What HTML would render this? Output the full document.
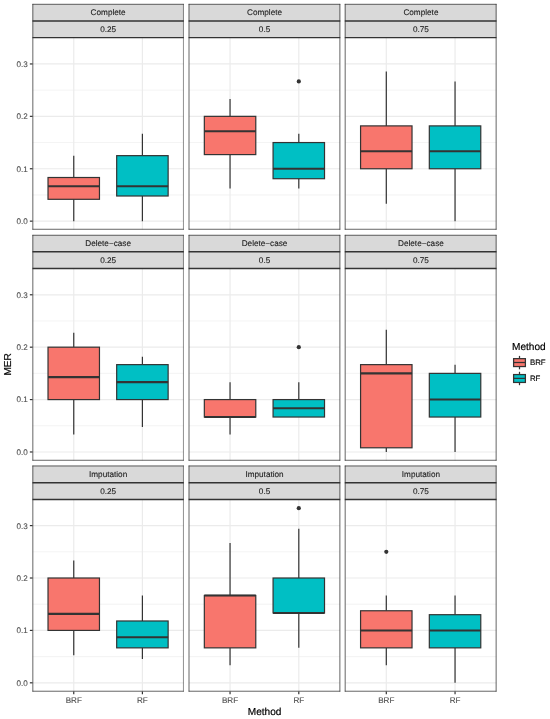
<!DOCTYPE html>
<html lang="en"><head><meta charset="utf-8"><title>MER by Method</title>
<style>html,body{margin:0;padding:0;background:#fff}svg{display:block}text{font-family:"Liberation Sans",Arial,Helvetica,sans-serif;text-rendering:geometricPrecision}.s{font-size:8.2px;fill:#1a1a1a;text-anchor:middle;stroke:#1a1a1a;stroke-width:.1px}.ax{font-size:8.1px;fill:#4d4d4d;stroke:#4d4d4d;stroke-width:.1px}.t{font-size:10.1px;fill:#000;stroke:#000;stroke-width:.18px}.lg{font-size:7.9px;fill:#000;stroke:#000;stroke-width:.12px}</style></head><body>
<svg width="550" height="719" viewBox="0 0 550 719">
<rect width="550" height="719" fill="#fff"/>
<g>
<rect x="32.6" y="37.67" width="151.05" height="191.98" fill="#fff"/>
<line x1="32.6" x2="183.65" y1="194.95" y2="194.95" stroke="#ebebeb" stroke-width="0.6"/>
<line x1="32.6" x2="183.65" y1="142.55" y2="142.55" stroke="#ebebeb" stroke-width="0.6"/>
<line x1="32.6" x2="183.65" y1="90.15" y2="90.15" stroke="#ebebeb" stroke-width="0.6"/>
<line x1="32.6" x2="183.65" y1="221.15" y2="221.15" stroke="#ebebeb" stroke-width="1.2"/>
<line x1="32.6" x2="183.65" y1="168.75" y2="168.75" stroke="#ebebeb" stroke-width="1.2"/>
<line x1="32.6" x2="183.65" y1="116.35" y2="116.35" stroke="#ebebeb" stroke-width="1.2"/>
<line x1="32.6" x2="183.65" y1="63.95" y2="63.95" stroke="#ebebeb" stroke-width="1.2"/>
<line x1="73.75" x2="73.75" y1="37.67" y2="229.65" stroke="#ebebeb" stroke-width="1.2"/>
<line x1="142.4" x2="142.4" y1="37.67" y2="229.65" stroke="#ebebeb" stroke-width="1.2"/>
<line x1="73.75" x2="73.75" y1="155.65" y2="177.5" stroke="#333" stroke-width="1.2"/>
<line x1="73.75" x2="73.75" y1="199.3" y2="221.15" stroke="#333" stroke-width="1.2"/>
<rect x="48.02" y="177.5" width="51.45" height="21.8" fill="#F8766D" stroke="#333" stroke-width="1.2"/>
<line x1="48.02" x2="99.47" y1="186.2" y2="186.2" stroke="#333" stroke-width="2.05"/>
<line x1="142.4" x2="142.4" y1="133.8" y2="155.65" stroke="#333" stroke-width="1.2"/>
<line x1="142.4" x2="142.4" y1="196" y2="221.15" stroke="#333" stroke-width="1.2"/>
<rect x="116.68" y="155.65" width="51.45" height="40.35" fill="#00BFC4" stroke="#333" stroke-width="1.2"/>
<line x1="116.68" x2="168.12" y1="186.2" y2="186.2" stroke="#333" stroke-width="2.05"/>
<rect x="32.45" y="3.93" width="151.37" height="33.74" fill="#d9d9d9"/>
<line x1="32.45" x2="183.82" y1="4.30" y2="4.30" stroke="#333" stroke-width="0.75"/><line x1="32.45" x2="183.82" y1="21.00" y2="21.00" stroke="#333" stroke-width="1.5"/><line x1="32.45" x2="183.82" y1="37.67" y2="37.67" stroke="#333" stroke-width="1.4"/><line x1="32.45" x2="183.82" y1="229.28" y2="229.28" stroke="#333" stroke-width="0.75"/><line x1="32.83" x2="32.83" y1="3.93" y2="229.65" stroke="#333" stroke-width="0.75"/><line x1="183.45" x2="183.45" y1="3.93" y2="229.65" stroke="#333" stroke-width="0.55"/>
<text class="s" x="108.12" y="15.37">Complete</text>
<text class="s" x="108.12" y="32.23">0.25</text>
<line x1="29.85" x2="32.6" y1="221.15" y2="221.15" stroke="#333" stroke-width="1.2"/>
<text class="ax" text-anchor="end" x="27.7" y="224.05">0.0</text>
<line x1="29.85" x2="32.6" y1="168.75" y2="168.75" stroke="#333" stroke-width="1.2"/>
<text class="ax" text-anchor="end" x="27.7" y="171.65">0.1</text>
<line x1="29.85" x2="32.6" y1="116.35" y2="116.35" stroke="#333" stroke-width="1.2"/>
<text class="ax" text-anchor="end" x="27.7" y="119.25">0.2</text>
<line x1="29.85" x2="32.6" y1="63.95" y2="63.95" stroke="#333" stroke-width="1.2"/>
<text class="ax" text-anchor="end" x="27.7" y="66.85">0.3</text>
</g>
<g>
<rect x="189.1" y="37.67" width="150.9" height="191.98" fill="#fff"/>
<line x1="189.1" x2="340" y1="194.95" y2="194.95" stroke="#ebebeb" stroke-width="0.6"/>
<line x1="189.1" x2="340" y1="142.55" y2="142.55" stroke="#ebebeb" stroke-width="0.6"/>
<line x1="189.1" x2="340" y1="90.15" y2="90.15" stroke="#ebebeb" stroke-width="0.6"/>
<line x1="189.1" x2="340" y1="221.15" y2="221.15" stroke="#ebebeb" stroke-width="1.2"/>
<line x1="189.1" x2="340" y1="168.75" y2="168.75" stroke="#ebebeb" stroke-width="1.2"/>
<line x1="189.1" x2="340" y1="116.35" y2="116.35" stroke="#ebebeb" stroke-width="1.2"/>
<line x1="189.1" x2="340" y1="63.95" y2="63.95" stroke="#ebebeb" stroke-width="1.2"/>
<line x1="230.05" x2="230.05" y1="37.67" y2="229.65" stroke="#ebebeb" stroke-width="1.2"/>
<line x1="298.8" x2="298.8" y1="37.67" y2="229.65" stroke="#ebebeb" stroke-width="1.2"/>
<line x1="230.05" x2="230.05" y1="98.9" y2="116.35" stroke="#333" stroke-width="1.2"/>
<line x1="230.05" x2="230.05" y1="154.6" y2="188.4" stroke="#333" stroke-width="1.2"/>
<rect x="204.33" y="116.35" width="51.45" height="38.25" fill="#F8766D" stroke="#333" stroke-width="1.2"/>
<line x1="204.33" x2="255.78" y1="131.34" y2="131.34" stroke="#333" stroke-width="2.05"/>
<circle cx="298.8" cy="81.4" r="2.1" fill="#333"/>
<line x1="298.8" x2="298.8" y1="133.8" y2="142.55" stroke="#333" stroke-width="1.2"/>
<line x1="298.8" x2="298.8" y1="178.71" y2="188.4" stroke="#333" stroke-width="1.2"/>
<rect x="273.07" y="142.55" width="51.45" height="36.16" fill="#00BFC4" stroke="#333" stroke-width="1.2"/>
<line x1="273.07" x2="324.53" y1="168.75" y2="168.75" stroke="#333" stroke-width="2.05"/>
<rect x="188.62" y="3.93" width="151.63" height="33.74" fill="#d9d9d9"/>
<line x1="188.62" x2="340.25" y1="4.30" y2="4.30" stroke="#333" stroke-width="0.75"/><line x1="188.62" x2="340.25" y1="21.00" y2="21.00" stroke="#333" stroke-width="1.5"/><line x1="188.62" x2="340.25" y1="37.67" y2="37.67" stroke="#333" stroke-width="1.4"/><line x1="188.62" x2="340.25" y1="229.28" y2="229.28" stroke="#333" stroke-width="0.75"/><line x1="189.00" x2="189.00" y1="3.93" y2="229.65" stroke="#333" stroke-width="0.75"/><line x1="339.88" x2="339.88" y1="3.93" y2="229.65" stroke="#333" stroke-width="0.75"/>
<text class="s" x="264.55" y="15.37">Complete</text>
<text class="s" x="264.55" y="32.23">0.5</text>
</g>
<g>
<rect x="345.45" y="37.67" width="150.95" height="191.98" fill="#fff"/>
<line x1="345.45" x2="496.4" y1="194.95" y2="194.95" stroke="#ebebeb" stroke-width="0.6"/>
<line x1="345.45" x2="496.4" y1="142.55" y2="142.55" stroke="#ebebeb" stroke-width="0.6"/>
<line x1="345.45" x2="496.4" y1="90.15" y2="90.15" stroke="#ebebeb" stroke-width="0.6"/>
<line x1="345.45" x2="496.4" y1="221.15" y2="221.15" stroke="#ebebeb" stroke-width="1.2"/>
<line x1="345.45" x2="496.4" y1="168.75" y2="168.75" stroke="#ebebeb" stroke-width="1.2"/>
<line x1="345.45" x2="496.4" y1="116.35" y2="116.35" stroke="#ebebeb" stroke-width="1.2"/>
<line x1="345.45" x2="496.4" y1="63.95" y2="63.95" stroke="#ebebeb" stroke-width="1.2"/>
<line x1="386.3" x2="386.3" y1="37.67" y2="229.65" stroke="#ebebeb" stroke-width="1.2"/>
<line x1="455.05" x2="455.05" y1="37.67" y2="229.65" stroke="#ebebeb" stroke-width="1.2"/>
<line x1="386.3" x2="386.3" y1="71.44" y2="125.89" stroke="#333" stroke-width="1.2"/>
<line x1="386.3" x2="386.3" y1="168.75" y2="203.7" stroke="#333" stroke-width="1.2"/>
<rect x="360.57" y="125.89" width="51.45" height="42.86" fill="#F8766D" stroke="#333" stroke-width="1.2"/>
<line x1="360.57" x2="412.03" y1="151.3" y2="151.3" stroke="#333" stroke-width="2.05"/>
<line x1="455.05" x2="455.05" y1="81.4" y2="125.89" stroke="#333" stroke-width="1.2"/>
<line x1="455.05" x2="455.05" y1="168.75" y2="221.15" stroke="#333" stroke-width="1.2"/>
<rect x="429.32" y="125.89" width="51.45" height="42.86" fill="#00BFC4" stroke="#333" stroke-width="1.2"/>
<line x1="429.32" x2="480.78" y1="151.3" y2="151.3" stroke="#333" stroke-width="2.05"/>
<rect x="344.81" y="3.93" width="151.70" height="33.74" fill="#d9d9d9"/>
<line x1="344.81" x2="496.50" y1="4.30" y2="4.30" stroke="#333" stroke-width="0.75"/><line x1="344.81" x2="496.50" y1="21.00" y2="21.00" stroke="#333" stroke-width="1.5"/><line x1="344.81" x2="496.50" y1="37.67" y2="37.67" stroke="#333" stroke-width="1.4"/><line x1="344.81" x2="496.50" y1="229.28" y2="229.28" stroke="#333" stroke-width="0.75"/><line x1="345.18" x2="345.18" y1="3.93" y2="229.65" stroke="#333" stroke-width="0.75"/><line x1="496.13" x2="496.13" y1="3.93" y2="229.65" stroke="#333" stroke-width="0.75"/>
<text class="s" x="420.92" y="15.37">Complete</text>
<text class="s" x="420.92" y="32.23">0.75</text>
</g>
<g>
<rect x="32.6" y="268.45" width="151.05" height="192.2" fill="#fff"/>
<line x1="32.6" x2="183.65" y1="425.78" y2="425.78" stroke="#ebebeb" stroke-width="0.6"/>
<line x1="32.6" x2="183.65" y1="373.38" y2="373.38" stroke="#ebebeb" stroke-width="0.6"/>
<line x1="32.6" x2="183.65" y1="320.98" y2="320.98" stroke="#ebebeb" stroke-width="0.6"/>
<line x1="32.6" x2="183.65" y1="451.98" y2="451.98" stroke="#ebebeb" stroke-width="1.2"/>
<line x1="32.6" x2="183.65" y1="399.58" y2="399.58" stroke="#ebebeb" stroke-width="1.2"/>
<line x1="32.6" x2="183.65" y1="347.18" y2="347.18" stroke="#ebebeb" stroke-width="1.2"/>
<line x1="32.6" x2="183.65" y1="294.78" y2="294.78" stroke="#ebebeb" stroke-width="1.2"/>
<line x1="73.75" x2="73.75" y1="268.45" y2="460.65" stroke="#ebebeb" stroke-width="1.2"/>
<line x1="142.4" x2="142.4" y1="268.45" y2="460.65" stroke="#ebebeb" stroke-width="1.2"/>
<line x1="73.75" x2="73.75" y1="332.87" y2="347.18" stroke="#333" stroke-width="1.2"/>
<line x1="73.75" x2="73.75" y1="399.58" y2="434.53" stroke="#333" stroke-width="1.2"/>
<rect x="48.02" y="347.18" width="51.45" height="52.4" fill="#F8766D" stroke="#333" stroke-width="1.2"/>
<line x1="48.02" x2="99.47" y1="377.1" y2="377.1" stroke="#333" stroke-width="2.05"/>
<line x1="142.4" x2="142.4" y1="356.72" y2="364.63" stroke="#333" stroke-width="1.2"/>
<line x1="142.4" x2="142.4" y1="399.58" y2="427.04" stroke="#333" stroke-width="1.2"/>
<rect x="116.68" y="364.63" width="51.45" height="34.95" fill="#00BFC4" stroke="#333" stroke-width="1.2"/>
<line x1="116.68" x2="168.12" y1="382.13" y2="382.13" stroke="#333" stroke-width="2.05"/>
<rect x="32.45" y="234.9" width="151.37" height="33.55" fill="#d9d9d9"/>
<line x1="32.45" x2="183.82" y1="235.28" y2="235.28" stroke="#333" stroke-width="0.75"/><line x1="32.45" x2="183.82" y1="251.78" y2="251.78" stroke="#333" stroke-width="1.5"/><line x1="32.45" x2="183.82" y1="268.45" y2="268.45" stroke="#333" stroke-width="1.4"/><line x1="32.45" x2="183.82" y1="460.27" y2="460.27" stroke="#333" stroke-width="0.75"/><line x1="32.83" x2="32.83" y1="234.90" y2="460.65" stroke="#333" stroke-width="0.75"/><line x1="183.45" x2="183.45" y1="234.90" y2="460.65" stroke="#333" stroke-width="0.55"/>
<text class="s" x="108.12" y="246.24">Delete−case</text>
<text class="s" x="108.12" y="263.01">0.25</text>
<line x1="29.85" x2="32.6" y1="451.98" y2="451.98" stroke="#333" stroke-width="1.2"/>
<text class="ax" text-anchor="end" x="27.7" y="454.88">0.0</text>
<line x1="29.85" x2="32.6" y1="399.58" y2="399.58" stroke="#333" stroke-width="1.2"/>
<text class="ax" text-anchor="end" x="27.7" y="402.48">0.1</text>
<line x1="29.85" x2="32.6" y1="347.18" y2="347.18" stroke="#333" stroke-width="1.2"/>
<text class="ax" text-anchor="end" x="27.7" y="350.08">0.2</text>
<line x1="29.85" x2="32.6" y1="294.78" y2="294.78" stroke="#333" stroke-width="1.2"/>
<text class="ax" text-anchor="end" x="27.7" y="297.68">0.3</text>
</g>
<g>
<rect x="189.1" y="268.45" width="150.9" height="192.2" fill="#fff"/>
<line x1="189.1" x2="340" y1="425.78" y2="425.78" stroke="#ebebeb" stroke-width="0.6"/>
<line x1="189.1" x2="340" y1="373.38" y2="373.38" stroke="#ebebeb" stroke-width="0.6"/>
<line x1="189.1" x2="340" y1="320.98" y2="320.98" stroke="#ebebeb" stroke-width="0.6"/>
<line x1="189.1" x2="340" y1="451.98" y2="451.98" stroke="#ebebeb" stroke-width="1.2"/>
<line x1="189.1" x2="340" y1="399.58" y2="399.58" stroke="#ebebeb" stroke-width="1.2"/>
<line x1="189.1" x2="340" y1="347.18" y2="347.18" stroke="#ebebeb" stroke-width="1.2"/>
<line x1="189.1" x2="340" y1="294.78" y2="294.78" stroke="#ebebeb" stroke-width="1.2"/>
<line x1="230.05" x2="230.05" y1="268.45" y2="460.65" stroke="#ebebeb" stroke-width="1.2"/>
<line x1="298.8" x2="298.8" y1="268.45" y2="460.65" stroke="#ebebeb" stroke-width="1.2"/>
<line x1="230.05" x2="230.05" y1="382.13" y2="399.58" stroke="#333" stroke-width="1.2"/>
<line x1="230.05" x2="230.05" y1="417.03" y2="434.53" stroke="#333" stroke-width="1.2"/>
<rect x="204.33" y="399.58" width="51.45" height="17.45" fill="#F8766D" stroke="#333" stroke-width="1.2"/>
<line x1="204.33" x2="255.78" y1="417.03" y2="417.03" stroke="#333" stroke-width="2.05"/>
<circle cx="298.8" cy="347.18" r="2.1" fill="#333"/>
<line x1="298.8" x2="298.8" y1="382.13" y2="399.58" stroke="#333" stroke-width="1.2"/>
<rect x="273.07" y="399.58" width="51.45" height="17.45" fill="#00BFC4" stroke="#333" stroke-width="1.2"/>
<line x1="273.07" x2="324.53" y1="408.33" y2="408.33" stroke="#333" stroke-width="2.05"/>
<rect x="188.62" y="234.9" width="151.63" height="33.55" fill="#d9d9d9"/>
<line x1="188.62" x2="340.25" y1="235.28" y2="235.28" stroke="#333" stroke-width="0.75"/><line x1="188.62" x2="340.25" y1="251.78" y2="251.78" stroke="#333" stroke-width="1.5"/><line x1="188.62" x2="340.25" y1="268.45" y2="268.45" stroke="#333" stroke-width="1.4"/><line x1="188.62" x2="340.25" y1="460.27" y2="460.27" stroke="#333" stroke-width="0.75"/><line x1="189.00" x2="189.00" y1="234.90" y2="460.65" stroke="#333" stroke-width="0.75"/><line x1="339.88" x2="339.88" y1="234.90" y2="460.65" stroke="#333" stroke-width="0.75"/>
<text class="s" x="264.55" y="246.24">Delete−case</text>
<text class="s" x="264.55" y="263.01">0.5</text>
</g>
<g>
<rect x="345.45" y="268.45" width="150.95" height="192.2" fill="#fff"/>
<line x1="345.45" x2="496.4" y1="425.78" y2="425.78" stroke="#ebebeb" stroke-width="0.6"/>
<line x1="345.45" x2="496.4" y1="373.38" y2="373.38" stroke="#ebebeb" stroke-width="0.6"/>
<line x1="345.45" x2="496.4" y1="320.98" y2="320.98" stroke="#ebebeb" stroke-width="0.6"/>
<line x1="345.45" x2="496.4" y1="451.98" y2="451.98" stroke="#ebebeb" stroke-width="1.2"/>
<line x1="345.45" x2="496.4" y1="399.58" y2="399.58" stroke="#ebebeb" stroke-width="1.2"/>
<line x1="345.45" x2="496.4" y1="347.18" y2="347.18" stroke="#ebebeb" stroke-width="1.2"/>
<line x1="345.45" x2="496.4" y1="294.78" y2="294.78" stroke="#ebebeb" stroke-width="1.2"/>
<line x1="386.3" x2="386.3" y1="268.45" y2="460.65" stroke="#ebebeb" stroke-width="1.2"/>
<line x1="455.05" x2="455.05" y1="268.45" y2="460.65" stroke="#ebebeb" stroke-width="1.2"/>
<line x1="386.3" x2="386.3" y1="329.73" y2="364.63" stroke="#333" stroke-width="1.2"/>
<line x1="386.3" x2="386.3" y1="447.79" y2="451.98" stroke="#333" stroke-width="1.2"/>
<rect x="360.57" y="364.63" width="51.45" height="83.16" fill="#F8766D" stroke="#333" stroke-width="1.2"/>
<line x1="360.57" x2="412.03" y1="373.38" y2="373.38" stroke="#333" stroke-width="2.05"/>
<line x1="455.05" x2="455.05" y1="364.63" y2="373.38" stroke="#333" stroke-width="1.2"/>
<line x1="455.05" x2="455.05" y1="417.03" y2="451.98" stroke="#333" stroke-width="1.2"/>
<rect x="429.32" y="373.38" width="51.45" height="43.65" fill="#00BFC4" stroke="#333" stroke-width="1.2"/>
<line x1="429.32" x2="480.78" y1="399.58" y2="399.58" stroke="#333" stroke-width="2.05"/>
<rect x="344.81" y="234.9" width="151.70" height="33.55" fill="#d9d9d9"/>
<line x1="344.81" x2="496.50" y1="235.28" y2="235.28" stroke="#333" stroke-width="0.75"/><line x1="344.81" x2="496.50" y1="251.78" y2="251.78" stroke="#333" stroke-width="1.5"/><line x1="344.81" x2="496.50" y1="268.45" y2="268.45" stroke="#333" stroke-width="1.4"/><line x1="344.81" x2="496.50" y1="460.27" y2="460.27" stroke="#333" stroke-width="0.75"/><line x1="345.18" x2="345.18" y1="234.90" y2="460.65" stroke="#333" stroke-width="0.75"/><line x1="496.13" x2="496.13" y1="234.90" y2="460.65" stroke="#333" stroke-width="0.75"/>
<text class="s" x="420.92" y="246.24">Delete−case</text>
<text class="s" x="420.92" y="263.01">0.75</text>
</g>
<g>
<rect x="32.6" y="499.5" width="151.05" height="192.1" fill="#fff"/>
<line x1="32.6" x2="183.65" y1="656.61" y2="656.61" stroke="#ebebeb" stroke-width="0.6"/>
<line x1="32.6" x2="183.65" y1="604.21" y2="604.21" stroke="#ebebeb" stroke-width="0.6"/>
<line x1="32.6" x2="183.65" y1="551.81" y2="551.81" stroke="#ebebeb" stroke-width="0.6"/>
<line x1="32.6" x2="183.65" y1="682.81" y2="682.81" stroke="#ebebeb" stroke-width="1.2"/>
<line x1="32.6" x2="183.65" y1="630.41" y2="630.41" stroke="#ebebeb" stroke-width="1.2"/>
<line x1="32.6" x2="183.65" y1="578.01" y2="578.01" stroke="#ebebeb" stroke-width="1.2"/>
<line x1="32.6" x2="183.65" y1="525.61" y2="525.61" stroke="#ebebeb" stroke-width="1.2"/>
<line x1="73.75" x2="73.75" y1="499.5" y2="691.6" stroke="#ebebeb" stroke-width="1.2"/>
<line x1="142.4" x2="142.4" y1="499.5" y2="691.6" stroke="#ebebeb" stroke-width="1.2"/>
<line x1="73.75" x2="73.75" y1="560.56" y2="578.01" stroke="#333" stroke-width="1.2"/>
<line x1="73.75" x2="73.75" y1="630.41" y2="655.25" stroke="#333" stroke-width="1.2"/>
<rect x="48.02" y="578.01" width="51.45" height="52.4" fill="#F8766D" stroke="#333" stroke-width="1.2"/>
<line x1="48.02" x2="99.47" y1="613.85" y2="613.85" stroke="#333" stroke-width="2.05"/>
<line x1="142.4" x2="142.4" y1="595.46" y2="620.98" stroke="#333" stroke-width="1.2"/>
<line x1="142.4" x2="142.4" y1="647.86" y2="658.97" stroke="#333" stroke-width="1.2"/>
<rect x="116.68" y="620.98" width="51.45" height="26.88" fill="#00BFC4" stroke="#333" stroke-width="1.2"/>
<line x1="116.68" x2="168.12" y1="637.22" y2="637.22" stroke="#333" stroke-width="2.05"/>
<rect x="32.45" y="465.6" width="151.37" height="33.9" fill="#d9d9d9"/>
<line x1="32.45" x2="183.82" y1="465.98" y2="465.98" stroke="#333" stroke-width="0.75"/><line x1="32.45" x2="183.82" y1="482.70" y2="482.70" stroke="#333" stroke-width="1.5"/><line x1="32.45" x2="183.82" y1="499.50" y2="499.50" stroke="#333" stroke-width="1.4"/><line x1="32.45" x2="183.82" y1="691.23" y2="691.23" stroke="#333" stroke-width="0.75"/><line x1="32.83" x2="32.83" y1="465.60" y2="691.60" stroke="#333" stroke-width="0.75"/><line x1="183.45" x2="183.45" y1="465.60" y2="691.60" stroke="#333" stroke-width="0.55"/>
<text class="s" x="108.12" y="477.05">Imputation</text>
<text class="s" x="108.12" y="494">0.25</text>
<line x1="29.85" x2="32.6" y1="682.81" y2="682.81" stroke="#333" stroke-width="1.2"/>
<text class="ax" text-anchor="end" x="27.7" y="685.71">0.0</text>
<line x1="29.85" x2="32.6" y1="630.41" y2="630.41" stroke="#333" stroke-width="1.2"/>
<text class="ax" text-anchor="end" x="27.7" y="633.31">0.1</text>
<line x1="29.85" x2="32.6" y1="578.01" y2="578.01" stroke="#333" stroke-width="1.2"/>
<text class="ax" text-anchor="end" x="27.7" y="580.91">0.2</text>
<line x1="29.85" x2="32.6" y1="525.61" y2="525.61" stroke="#333" stroke-width="1.2"/>
<text class="ax" text-anchor="end" x="27.7" y="528.51">0.3</text>
<line x1="73.75" x2="73.75" y1="691.6" y2="694.35" stroke="#333" stroke-width="1.2"/>
<text class="ax" text-anchor="middle" x="73.75" y="702.6">BRF</text>
<line x1="142.4" x2="142.4" y1="691.6" y2="694.35" stroke="#333" stroke-width="1.2"/>
<text class="ax" text-anchor="middle" x="142.4" y="702.6">RF</text>
</g>
<g>
<rect x="189.1" y="499.5" width="150.9" height="192.1" fill="#fff"/>
<line x1="189.1" x2="340" y1="656.61" y2="656.61" stroke="#ebebeb" stroke-width="0.6"/>
<line x1="189.1" x2="340" y1="604.21" y2="604.21" stroke="#ebebeb" stroke-width="0.6"/>
<line x1="189.1" x2="340" y1="551.81" y2="551.81" stroke="#ebebeb" stroke-width="0.6"/>
<line x1="189.1" x2="340" y1="682.81" y2="682.81" stroke="#ebebeb" stroke-width="1.2"/>
<line x1="189.1" x2="340" y1="630.41" y2="630.41" stroke="#ebebeb" stroke-width="1.2"/>
<line x1="189.1" x2="340" y1="578.01" y2="578.01" stroke="#ebebeb" stroke-width="1.2"/>
<line x1="189.1" x2="340" y1="525.61" y2="525.61" stroke="#ebebeb" stroke-width="1.2"/>
<line x1="230.05" x2="230.05" y1="499.5" y2="691.6" stroke="#ebebeb" stroke-width="1.2"/>
<line x1="298.8" x2="298.8" y1="499.5" y2="691.6" stroke="#ebebeb" stroke-width="1.2"/>
<line x1="230.05" x2="230.05" y1="543.06" y2="595.46" stroke="#333" stroke-width="1.2"/>
<line x1="230.05" x2="230.05" y1="647.86" y2="665.36" stroke="#333" stroke-width="1.2"/>
<rect x="204.33" y="595.46" width="51.45" height="52.4" fill="#F8766D" stroke="#333" stroke-width="1.2"/>
<line x1="204.33" x2="255.78" y1="595.46" y2="595.46" stroke="#333" stroke-width="2.05"/>
<circle cx="298.8" cy="508.16" r="2.1" fill="#333"/>
<line x1="298.8" x2="298.8" y1="528.7" y2="578.01" stroke="#333" stroke-width="1.2"/>
<line x1="298.8" x2="298.8" y1="612.96" y2="647.86" stroke="#333" stroke-width="1.2"/>
<rect x="273.07" y="578.01" width="51.45" height="34.95" fill="#00BFC4" stroke="#333" stroke-width="1.2"/>
<line x1="273.07" x2="324.53" y1="612.96" y2="612.96" stroke="#333" stroke-width="2.05"/>
<rect x="188.62" y="465.6" width="151.63" height="33.9" fill="#d9d9d9"/>
<line x1="188.62" x2="340.25" y1="465.98" y2="465.98" stroke="#333" stroke-width="0.75"/><line x1="188.62" x2="340.25" y1="482.70" y2="482.70" stroke="#333" stroke-width="1.5"/><line x1="188.62" x2="340.25" y1="499.50" y2="499.50" stroke="#333" stroke-width="1.4"/><line x1="188.62" x2="340.25" y1="691.23" y2="691.23" stroke="#333" stroke-width="0.75"/><line x1="189.00" x2="189.00" y1="465.60" y2="691.60" stroke="#333" stroke-width="0.75"/><line x1="339.88" x2="339.88" y1="465.60" y2="691.60" stroke="#333" stroke-width="0.75"/>
<text class="s" x="264.55" y="477.05">Imputation</text>
<text class="s" x="264.55" y="494">0.5</text>
<line x1="230.05" x2="230.05" y1="691.6" y2="694.35" stroke="#333" stroke-width="1.2"/>
<text class="ax" text-anchor="middle" x="230.05" y="702.6">BRF</text>
<line x1="298.8" x2="298.8" y1="691.6" y2="694.35" stroke="#333" stroke-width="1.2"/>
<text class="ax" text-anchor="middle" x="298.8" y="702.6">RF</text>
</g>
<g>
<rect x="345.45" y="499.5" width="150.95" height="192.1" fill="#fff"/>
<line x1="345.45" x2="496.4" y1="656.61" y2="656.61" stroke="#ebebeb" stroke-width="0.6"/>
<line x1="345.45" x2="496.4" y1="604.21" y2="604.21" stroke="#ebebeb" stroke-width="0.6"/>
<line x1="345.45" x2="496.4" y1="551.81" y2="551.81" stroke="#ebebeb" stroke-width="0.6"/>
<line x1="345.45" x2="496.4" y1="682.81" y2="682.81" stroke="#ebebeb" stroke-width="1.2"/>
<line x1="345.45" x2="496.4" y1="630.41" y2="630.41" stroke="#ebebeb" stroke-width="1.2"/>
<line x1="345.45" x2="496.4" y1="578.01" y2="578.01" stroke="#ebebeb" stroke-width="1.2"/>
<line x1="345.45" x2="496.4" y1="525.61" y2="525.61" stroke="#ebebeb" stroke-width="1.2"/>
<line x1="386.3" x2="386.3" y1="499.5" y2="691.6" stroke="#ebebeb" stroke-width="1.2"/>
<line x1="455.05" x2="455.05" y1="499.5" y2="691.6" stroke="#ebebeb" stroke-width="1.2"/>
<circle cx="386.3" cy="551.81" r="2.1" fill="#333"/>
<line x1="386.3" x2="386.3" y1="595.46" y2="610.76" stroke="#333" stroke-width="1.2"/>
<line x1="386.3" x2="386.3" y1="647.86" y2="665.36" stroke="#333" stroke-width="1.2"/>
<rect x="360.57" y="610.76" width="51.45" height="37.1" fill="#F8766D" stroke="#333" stroke-width="1.2"/>
<line x1="360.57" x2="412.03" y1="630.41" y2="630.41" stroke="#333" stroke-width="2.05"/>
<line x1="455.05" x2="455.05" y1="595.46" y2="614.69" stroke="#333" stroke-width="1.2"/>
<line x1="455.05" x2="455.05" y1="647.86" y2="682.81" stroke="#333" stroke-width="1.2"/>
<rect x="429.32" y="614.69" width="51.45" height="33.17" fill="#00BFC4" stroke="#333" stroke-width="1.2"/>
<line x1="429.32" x2="480.78" y1="630.41" y2="630.41" stroke="#333" stroke-width="2.05"/>
<rect x="344.81" y="465.6" width="151.70" height="33.9" fill="#d9d9d9"/>
<line x1="344.81" x2="496.50" y1="465.98" y2="465.98" stroke="#333" stroke-width="0.75"/><line x1="344.81" x2="496.50" y1="482.70" y2="482.70" stroke="#333" stroke-width="1.5"/><line x1="344.81" x2="496.50" y1="499.50" y2="499.50" stroke="#333" stroke-width="1.4"/><line x1="344.81" x2="496.50" y1="691.23" y2="691.23" stroke="#333" stroke-width="0.75"/><line x1="345.18" x2="345.18" y1="465.60" y2="691.60" stroke="#333" stroke-width="0.75"/><line x1="496.13" x2="496.13" y1="465.60" y2="691.60" stroke="#333" stroke-width="0.75"/>
<text class="s" x="420.92" y="477.05">Imputation</text>
<text class="s" x="420.92" y="494">0.75</text>
<line x1="386.3" x2="386.3" y1="691.6" y2="694.35" stroke="#333" stroke-width="1.2"/>
<text class="ax" text-anchor="middle" x="386.3" y="702.6">BRF</text>
<line x1="455.05" x2="455.05" y1="691.6" y2="694.35" stroke="#333" stroke-width="1.2"/>
<text class="ax" text-anchor="middle" x="455.05" y="702.6">RF</text>
</g>
<text class="t" text-anchor="middle" x="264.6" y="715">Method</text>
<text class="t" text-anchor="middle" transform="translate(11.2,364.4) rotate(-90)">MER</text>
<text class="t" x="512" y="350.2">Method</text>
<line x1="519.5" x2="519.5" y1="355.9" y2="369.3" stroke="#333" stroke-width="1.25"/>
<rect x="513.6" y="358.65" width="11.8" height="7.9" fill="#F8766D" stroke="#333" stroke-width="1.25"/>
<line x1="513.6" x2="525.4" y1="362.5" y2="362.5" stroke="#333" stroke-width="1.25"/>
<text class="lg" x="529.9" y="365.3">BRF</text>
<line x1="519.5" x2="519.5" y1="371.8" y2="385.2" stroke="#333" stroke-width="1.25"/>
<rect x="513.6" y="374.55" width="11.8" height="7.9" fill="#00BFC4" stroke="#333" stroke-width="1.25"/>
<line x1="513.6" x2="525.4" y1="378.4" y2="378.4" stroke="#333" stroke-width="1.25"/>
<text class="lg" x="529.9" y="381.2">RF</text>
</svg></body></html>
